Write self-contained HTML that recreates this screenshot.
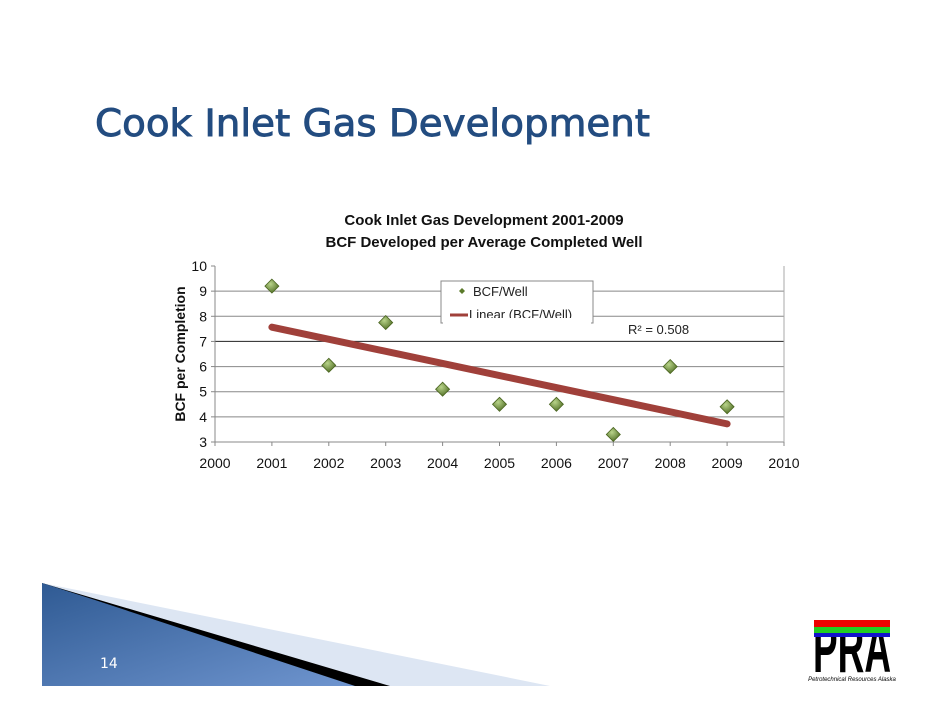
<!DOCTYPE html>
<html><head><meta charset="utf-8"><style>
html,body{margin:0;padding:0;background:#fff;}
svg{display:block;font-family:"Liberation Sans",Arial,sans-serif;}
</style></head><body>
<svg id="s" width="942" height="728" viewBox="0 0 942 728">
<defs>
<linearGradient id="bl" x1="0" y1="0" x2="1" y2="1"><stop offset="0" stop-color="#2f5a93"/><stop offset="1" stop-color="#6f95cf"/></linearGradient>
<radialGradient id="dg" cx="0.4" cy="0.35" r="0.7"><stop offset="0" stop-color="#b9d48a"/><stop offset="1" stop-color="#4d6b22"/></radialGradient>
</defs>
<text x="95" y="136" font-family="DejaVu Sans, sans-serif" font-size="37" fill="#234c80" stroke="#234c80" stroke-width="0.9" textLength="555" lengthAdjust="spacingAndGlyphs">Cook Inlet Gas Development</text>
<text x="484" y="225" text-anchor="middle" font-size="15" font-weight="bold" fill="#111">Cook Inlet Gas Development 2001-2009</text>
<text x="484" y="247" text-anchor="middle" font-size="15" font-weight="bold" fill="#111">BCF Developed per Average Completed Well</text>
<text transform="translate(185,354) rotate(-90)" text-anchor="middle" font-size="14" font-weight="bold" fill="#111">BCF per Completion</text>
<g id="grid"></g><g id="axes"></g><g id="trend"></g><g id="pts"></g>
<g>
<rect x="441" y="281" width="152" height="42" fill="#fff" stroke="#888" stroke-width="1"/>
<path d="M462 288 l3 3 -3 3 -3 -3z" fill="#5b7a2a"/>
<text x="473" y="296" font-size="13" fill="#222">BCF/Well</text>
<line x1="450" y1="315" x2="468" y2="315" stroke="#a0403a" stroke-width="3"/>
<text x="469" y="319" font-size="13" fill="#222">Linear (BCF/Well)</text>
</g>
<rect x="443" y="318" width="148" height="8" fill="#fff"/>
<rect x="624" y="319" width="62" height="18" fill="#fff"/>
<text x="628" y="334" font-size="13" fill="#222">R² = 0.508</text>
<g>
<polygon points="42,583 42,686 550,686" fill="#dde6f3"/>
<polygon points="42,583 42,686 390,686" fill="#000"/>
<polygon points="42,583 42,686 355,686 95,600" fill="url(#bl)"/>
</g>
<text x="100" y="668" font-family="DejaVu Sans, sans-serif" font-size="14" fill="#fff">14</text>
<g>
<text x="852" y="672" text-anchor="middle" font-size="70" font-weight="bold" fill="#000" textLength="78" lengthAdjust="spacingAndGlyphs">PRA</text>
<rect x="814" y="620" width="76" height="7" fill="#e00"/>
<rect x="814" y="627" width="76" height="6" fill="#2c2"/>
<rect x="814" y="633" width="76" height="4" fill="#11c"/>
<text x="852" y="681" text-anchor="middle" font-size="6" font-style="italic" fill="#000">Petrotechnical Resources Alaska</text>
</g>
</svg>
<script>
const years=[2001,2002,2003,2004,2005,2006,2007,2008,2009];
const bcf=[9.2,6.05,7.75,5.1,4.5,4.5,3.3,6.0,4.4];
const yTicks=[3,4,5,6,7,8,9,10];
const xTicks=[2000,2001,2002,2003,2004,2005,2006,2007,2008,2009,2010];
const NS='http://www.w3.org/2000/svg';
const X0=215,X1=784,Y0=442,Y1=266;
const xs=v=>X0+(v-2000)/10*(X1-X0);
const ys=v=>Y0-(v-3)/7*(Y0-Y1);
function mk(t,a,p){const e=document.createElementNS(NS,t);for(const k in a)e.setAttribute(k,a[k]);document.getElementById(p).appendChild(e);return e;}
yTicks.forEach(v=>{
 const l=mk('line',{x1:X0,x2:v==10?X0:X1,y1:ys(v),y2:ys(v),stroke:v==7?'#222':'#888','stroke-width':1},'grid');
 
 
 mk('line',{x1:X0-4,x2:X0,y1:ys(v),y2:ys(v),stroke:'#888'},'axes');
 const t=mk('text',{x:X0-8,y:ys(v)+5,'text-anchor':'end','font-size':14,fill:'#111'},'axes');
 t.textContent=v;
 
 
});
mk('line',{x1:X0,x2:X0,y1:Y1,y2:Y0,stroke:'#888'},'axes');
mk('line',{x1:X1,x2:X1,y1:Y1,y2:Y0,stroke:'#aaa'},'axes');
xTicks.forEach(v=>{
 mk('line',{x1:xs(v),x2:xs(v),y1:Y0,y2:Y0+4,stroke:'#888'},'axes');
 const t=mk('text',{x:xs(v),y:Y0+26,'text-anchor':'middle','font-size':14,fill:'#111'},'axes');
 t.textContent=v;
 
 
});
const n=years.length,mx=years.reduce((a,b)=>a+b)/n,my=bcf.reduce((a,b)=>a+b)/n;
let sxy=0,sxx=0;years.forEach((x,i)=>{sxy+=(x-mx)*(bcf[i]-my);sxx+=(x-mx)*(x-mx);});
const sl=sxy/sxx,ic=my-sl*mx;
const tl=mk('line',{x1:xs(years[0]),y1:ys(ic+sl*years[0]),x2:xs(years[n-1]),y2:ys(ic+sl*years[n-1]),stroke:'#a0403a','stroke-width':7,'stroke-linecap':'round'},'trend');


years.forEach((y,i)=>{
 const cx=xs(y),cy=ys(bcf[i]);
 const p=mk('path',{d:`M${cx} ${cy-7} L${cx+7} ${cy} L${cx} ${cy+7} L${cx-7} ${cy} Z`,fill:'url(#dg)',stroke:'#4a6520','stroke-width':0.8},'pts');
 
 
});
</script>
</body></html>
